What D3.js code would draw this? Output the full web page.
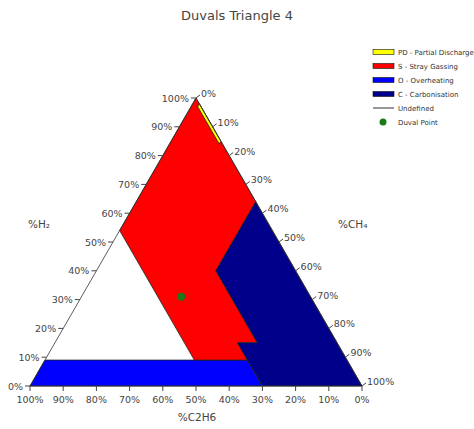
<!DOCTYPE html><html><head><meta charset="utf-8">
<script src="https://cdn.jsdelivr.net/npm/d3@7"></script>
<style>body{margin:0;background:#fff}text{font-family:Verdana,"DejaVu Sans",sans-serif}</style></head><body>
<svg id="c" width="474" height="429"></svg>
<script>
// points are [H2, CH4, C2H6] in %
const zoneNames=["O - Overheating","S - Stray Gassing","C - Carbonisation","PD - Partial Discharge"];
const zoneColors=["#0000ff","#ff0000","#00008b","#ffff00"];
const zonePolys=[
 [[0,0,100],[9,0,91],[9,61,30],[0,70,30]],
 [[54,0,46],[100,0,0],[64,36,0],[40,36,24],[15,61,24],[15,55,30],[9,61,30],[9,45,46]],
 [[64,36,0],[0,100,0],[0,70,30],[15,55,30],[15,61,24],[40,36,24]],
 [[98,2,0],[85,15,0],[84,15,1],[97,2,1]]
];
const ticks=[0,10,20,30,40,50,60,70,80,90,100];
const duvalPoint=[31,30,39];
const legendItems=["PD - Partial Discharge","S - Stray Gassing","O - Overheating","C - Carbonisation","Undefined","Duval Point"];
const legendColors=["#ffff00","#ff0000","#0000ff","#00008b","#333","#1a7a1a"];

const svg=d3.select("#c");
const yS=d3.scaleLinear().domain([0,100]).range([386,98]);
const xS=d3.scaleLinear().domain([0,100]).range([30,362]);
const P=d=>[xS(d[1]+d[0]/2),yS(d[0])];
const line=d3.line().x(d=>P(d)[0]).y(d=>P(d)[1]).curve(d3.curveLinearClosed);

svg.append("text").attr("x",237).attr("y",20).attr("text-anchor","middle").attr("font-size",13).attr("fill","#444").text("Duvals Triangle 4");

svg.selectAll("path.z").data(zonePolys).join("path").attr("d",d=>line(d))
 .attr("fill",(d,i)=>zoneColors[i]).attr("stroke","#222").attr("stroke-width",0.8);
svg.append("path").attr("d",line([[100,0,0],[0,100,0],[0,0,100]])).attr("fill","none").attr("stroke","#333").attr("stroke-width",0.8);

const g=svg.append("g").attr("font-size",9.5).attr("fill","#444");
// left H2
ticks.forEach(t=>{const [x,y]=P([t,0,100-t]);
 g.append("line").attr("x1",x-5).attr("y1",y).attr("x2",x).attr("y2",y).attr("stroke","#444");
 g.append("text").attr("x",x-7).attr("y",y+3.5).attr("text-anchor","end").text(t+"%");});
// right CH4
ticks.forEach(t=>{const [x,y]=P([100-t,t,0]);
 g.append("line").attr("x1",x).attr("y1",y).attr("x2",x+4).attr("y2",y-3).attr("stroke","#444");
 g.append("text").attr("x",x+5).attr("y",y-1).text(t+"%");});
// bottom C2H6
ticks.forEach(t=>{const [x,y]=P([0,100-t,t]);
 g.append("line").attr("x1",x).attr("y1",y).attr("x2",x).attr("y2",y+5).attr("stroke","#444");
 g.append("text").attr("x",x).attr("y",y+17).attr("text-anchor","middle").text(t+"%");});
svg.append("text").attr("x",28).attr("y",228).attr("font-size",10.5).attr("fill","#444").text("%H₂");
svg.append("text").attr("x",338).attr("y",228).attr("font-size",10.5).attr("fill","#444").text("%CH₄");
svg.append("text").attr("x",197).attr("y",421).attr("text-anchor","middle").attr("font-size",10.5).attr("fill","#444").text("%C2H6");

const dp=P(duvalPoint);
svg.append("circle").attr("cx",dp[0]).attr("cy",dp[1]).attr("r",4).attr("fill","#1a7a1a");

const lg=svg.append("g").attr("font-size",7).attr("fill","#333");
legendItems.forEach((n,i)=>{const y=52+i*14;
 if(i<4){lg.append("rect").attr("x",373).attr("y",y-2.5).attr("width",21).attr("height",5).attr("fill",legendColors[i]).attr("stroke","#111").attr("stroke-width",0.6);}
 else if(i==4){lg.append("line").attr("x1",373).attr("x2",394).attr("y1",y).attr("y2",y).attr("stroke","#333");}
 else lg.append("circle").attr("cx",383).attr("cy",y).attr("r",3.5).attr("fill",legendColors[5]);
 lg.append("text").attr("x",398).attr("y",y+2.5).text(n);});
</script></body></html>
